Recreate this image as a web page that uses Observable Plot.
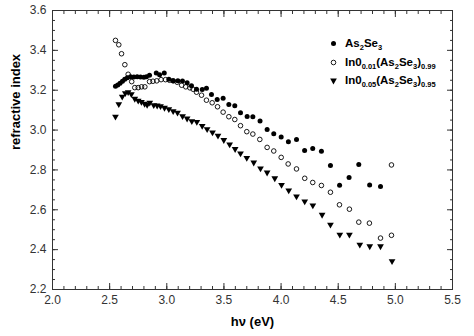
<!DOCTYPE html>
<html><head><meta charset="utf-8">
<script src="https://cdn.jsdelivr.net/npm/d3@7"></script>
<script src="https://cdn.jsdelivr.net/npm/@observablehq/plot@0.6"></script>
<style>body{margin:0;background:#fff}</style>
</head><body><div id="chart"></div>
<script>
// As2Se3 (filled circles)
const asX = [2.551,2.571,2.591,2.612,2.632,2.655,2.683,2.712,2.741,2.770,2.800,2.822,2.849,2.908,2.937,2.978,3.018,3.056,3.097,3.137,3.178,3.216,3.260,3.310,3.347,3.391,3.441,3.493,3.543,3.595,3.645,3.703,3.753,3.816,3.878,3.936,4.001,4.064,4.135,4.206,4.277,4.353,4.432,4.512,4.595,4.680,4.775,4.870];
const asY = [3.220,3.226,3.235,3.245,3.255,3.262,3.267,3.266,3.267,3.266,3.265,3.268,3.275,3.287,3.278,3.287,3.255,3.248,3.247,3.246,3.237,3.223,3.205,3.203,3.210,3.178,3.153,3.160,3.128,3.122,3.087,3.068,3.067,3.046,3.003,2.982,2.965,2.941,2.953,2.897,2.908,2.894,2.822,2.723,2.762,2.827,2.725,2.717];
// In0.01(As2Se3)0.99 (open circles)
const in1X = [2.551,2.580,2.604,2.633,2.662,2.693,2.720,2.750,2.779,2.808,2.849,2.879,2.912,2.950,2.989,3.024,3.056,3.091,3.130,3.166,3.202,3.230,3.260,3.304,3.347,3.397,3.444,3.493,3.543,3.595,3.645,3.700,3.753,3.814,3.878,3.936,4.001,4.062,4.135,4.207,4.277,4.353,4.432,4.511,4.598,4.680,4.773,4.870,4.966,4.966];
const in1Y = [3.450,3.428,3.383,3.328,3.280,3.243,3.213,3.213,3.217,3.217,3.243,3.245,3.247,3.253,3.253,3.250,3.247,3.240,3.225,3.217,3.212,3.205,3.190,3.175,3.150,3.137,3.117,3.090,3.067,3.053,3.022,2.992,2.980,2.953,2.913,2.895,2.863,2.830,2.805,2.758,2.737,2.722,2.688,2.625,2.603,2.538,2.533,2.458,2.472,2.825];
// In0.05(As2Se3)0.95 (down triangles)
const in5X = [2.551,2.580,2.610,2.637,2.662,2.690,2.720,2.750,2.778,2.806,2.828,2.851,2.886,2.916,2.945,2.980,3.018,3.056,3.094,3.138,3.178,3.219,3.263,3.310,3.353,3.400,3.448,3.499,3.550,3.598,3.645,3.700,3.761,3.820,3.878,3.945,4.004,4.067,4.135,4.207,4.278,4.359,4.432,4.514,4.598,4.689,4.776,4.870,4.971];
const in5Y = [3.067,3.130,3.168,3.185,3.190,3.180,3.157,3.148,3.141,3.132,3.126,3.138,3.125,3.123,3.120,3.112,3.105,3.095,3.087,3.070,3.058,3.045,3.041,3.021,3.005,2.988,2.972,2.950,2.928,2.905,2.883,2.860,2.837,2.808,2.787,2.758,2.725,2.697,2.667,2.642,2.622,2.575,2.525,2.475,2.475,2.425,2.417,2.417,2.342];

const xMajor = [2.0,2.5,3.0,3.5,4.0,4.5,5.0,5.5];
const yMajor = [2.2,2.4,2.6,2.8,3.0,3.2,3.4,3.6];
const xMinor = d3.range(20, 56).map(d => d / 10);
const yMinor = d3.range(44, 73).map(d => d / 20);

const zip = (xs, ys) => xs.map((x, i) => ({x, y: ys[i]}));
const asData = zip(asX, asY), in1Data = zip(in1X, in1Y), in5Data = zip(in5X, in5Y);

const font = "Liberation Sans, Arial, sans-serif";
const axisColor = "#333";

const plot = Plot.plot({
  width: 474, height: 336,
  marginLeft: 52, marginRight: 22, marginTop: 10, marginBottom: 47,
  style: {fontFamily: font, fontSize: "12px", color: axisColor, background: "#fff"},
  x: {domain: [2.0, 5.5], label: null},
  y: {domain: [2.2, 3.6], label: null},
  marks: [
    Plot.frame({stroke: axisColor, strokeWidth: 1}),
    // minor ticks
    Plot.axisX({ticks: xMinor, anchor: "bottom", tickSize: -3, text: null, label: null, stroke: axisColor}),
    Plot.axisX({ticks: xMinor, anchor: "top", tickSize: -3, text: null, label: null, stroke: axisColor}),
    Plot.axisY({ticks: yMinor, anchor: "left", tickSize: -3, text: null, label: null, stroke: axisColor}),
    Plot.axisY({ticks: yMinor, anchor: "right", tickSize: -3, text: null, label: null, stroke: axisColor}),
    // major ticks
    Plot.axisX({ticks: xMajor, anchor: "bottom", tickSize: -6, text: null, label: null, stroke: axisColor}),
    Plot.axisX({ticks: xMajor, anchor: "top", tickSize: -6, text: null, label: null, stroke: axisColor}),
    Plot.axisY({ticks: yMajor, anchor: "left", tickSize: -6, text: null, label: null, stroke: axisColor}),
    Plot.axisY({ticks: yMajor, anchor: "right", tickSize: -6, text: null, label: null, stroke: axisColor}),
    // labels
    Plot.axisX({ticks: xMajor, anchor: "bottom", tickSize: 0, tickPadding: 6, label: null, tickFormat: d => d.toFixed(1), fill: axisColor}),
    Plot.axisY({ticks: yMajor, anchor: "left", tickSize: 0, tickPadding: 6, label: null, tickFormat: d => d.toFixed(1), fill: axisColor}),
    // axis titles
    Plot.text(["refractive index"], {frameAnchor: "left", dx: -37, rotate: -90, fontWeight: "bold", fontSize: 13, fill: "#000"}),
    Plot.text(["hν (eV)"], {frameAnchor: "bottom", dy: 36, fontWeight: "bold", fontSize: 13, fill: "#000"}),
    // data
    Plot.dot(asData, {x: "x", y: "y", r: 2.5, fill: "#000", stroke: "none"}),
    Plot.dot(in1Data, {x: "x", y: "y", r: 2.3, fill: "none", stroke: "#000", strokeWidth: 0.9}),
    Plot.dot(in5Data, {x: "x", y: "y", r: 2.5, symbol: "triangle", rotate: 180, fill: "#000", stroke: "none"}),
    // legend markers
    Plot.dot([0], {frameAnchor: "top-left", dx: 281, dy: 33, r: 2.5, fill: "#000", stroke: "none"}),
    Plot.dot([0], {frameAnchor: "top-left", dx: 281, dy: 52, r: 2.3, fill: "none", stroke: "#000", strokeWidth: 0.9}),
    Plot.dot([0], {frameAnchor: "top-left", dx: 281, dy: 70, r: 2.5, symbol: "triangle", rotate: 180, fill: "#000", stroke: "none"})
  ]
});

// legend labels with subscripts
const legendLabels = [
  [["As",0],["2",1],["Se",0],["3",1]],
  [["In0",0],["0.01",1],["(As",0],["2",1],["Se",0],["3",1],[")",0],["0.99",1]],
  [["In0",0],["0.05",1],["(As",0],["2",1],["Se",0],["3",1],[")",0],["0.95",1]]
];
const legendY = [47, 66, 84];
const svg = d3.select(plot);
legendLabels.forEach((parts, i) => {
  const t = svg.append("text")
    .attr("x", 345).attr("y", legendY[i])
    .attr("text-anchor", "start")
    .attr("font-family", font).attr("font-weight", "bold").attr("font-size", 11.5).attr("fill", "#000");
  let prevSub = false;
  parts.forEach(([s, sub]) => {
    const ts = t.append("tspan").text(s);
    if (sub && !prevSub) ts.attr("dy", 3).attr("font-size", 7.5);
    else if (!sub && prevSub) ts.attr("dy", -3);
    else if (sub) ts.attr("font-size", 7.5);
    prevSub = !!sub;
  });
});

document.getElementById("chart").appendChild(plot);
</script>
</body></html>
